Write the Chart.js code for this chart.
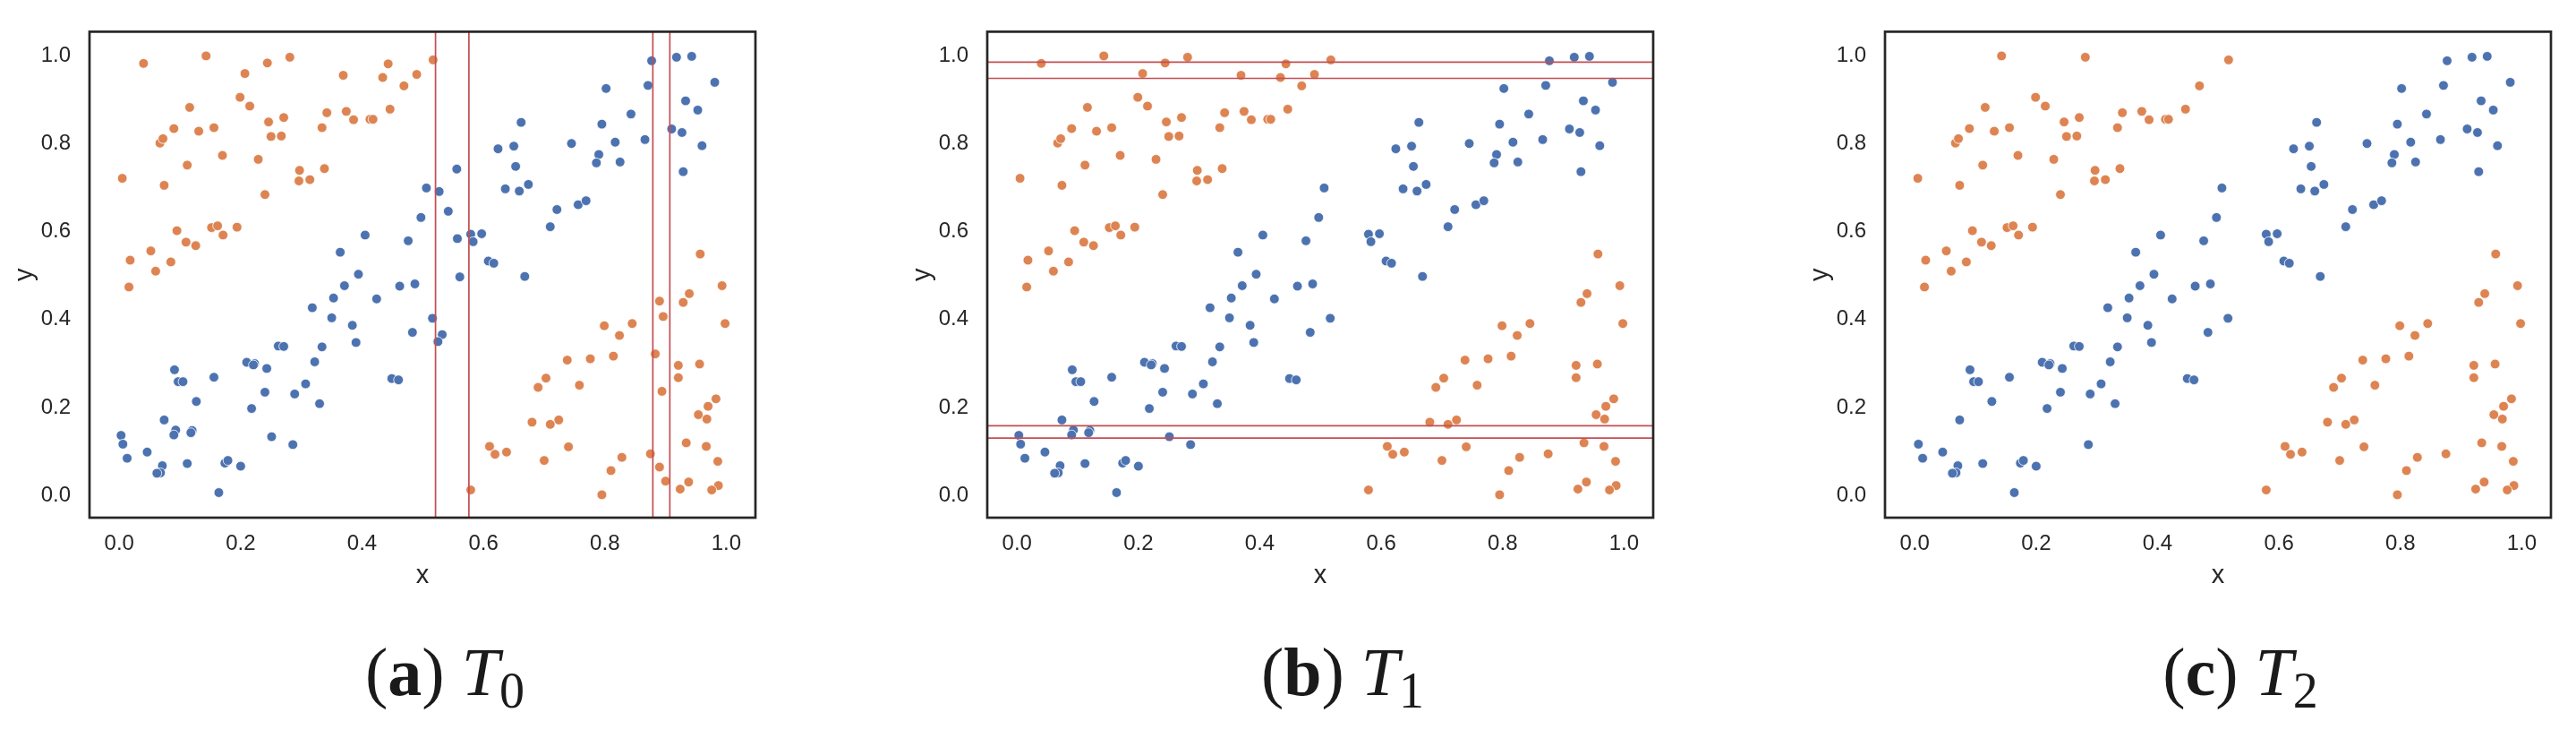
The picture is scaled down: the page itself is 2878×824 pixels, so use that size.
<!DOCTYPE html>
<html>
<head>
<meta charset="utf-8">
<script src="https://cdn.jsdelivr.net/npm/chart.js@4.4.0/dist/chart.umd.min.js"></script>
<style>
  body { margin: 0; background: #fff; width: 2878px; height: 824px; overflow: hidden; position: relative; }
  .panel { position: absolute; top: 0; width: 858px; height: 700px; }
  .cap { position: absolute; top: 712px; width: 400px; margin-left: -200px; text-align: center;
         font-family: "Liberation Serif", serif; font-size: 76px; line-height: 1; color: #1a1a1a; white-space: nowrap; }
  .cap b { font-weight: bold; }
  .cap i { font-style: italic; }
  .cap sub { font-size: 56px; vertical-align: -14px; font-style: normal; }
</style>
</head>
<body>
<div class="panel" style="left:0px"><canvas id="c0"></canvas></div>
<div class="panel" style="left:1003px"><canvas id="c1"></canvas></div>
<div class="panel" style="left:2006px"><canvas id="c2"></canvas></div>
<div class="cap" style="left:497px">(<b>a</b>) <i>T</i><sub>0</sub></div>
<div class="cap" style="left:1500px">(<b>b</b>) <i>T</i><sub>1</sub></div>
<div class="cap" style="left:2503px">(<b>c</b>) <i>T</i><sub>2</sub></div>

<script>
// class 0 (blue)
let blueX = [0.918, 0.943, 0.877, 0.871, 0.802, 0.981, 0.933, 0.953, 0.843, 0.795,
             0.662, 0.910, 0.927, 0.866, 0.817, 0.960, 0.745, 0.624, 0.650, 0.790,
             0.786, 0.825, 0.653, 0.556, 0.929, 0.506, 0.527, 0.636, 0.659, 0.674,
             0.756, 0.769, 0.721, 0.542, 0.497, 0.710, 0.405, 0.476, 0.557, 0.579,
             0.583, 0.597, 0.364, 0.608, 0.617, 0.561, 0.668, 0.394, 0.371, 0.462,
             0.487, 0.353, 0.424, 0.318, 0.350, 0.516, 0.384, 0.483, 0.532, 0.525,
             0.390, 0.262, 0.271, 0.334, 0.210, 0.223, 0.221, 0.322, 0.243, 0.091,
             0.097, 0.105, 0.156, 0.449, 0.460, 0.307, 0.240, 0.289, 0.127, 0.330,
             0.218, 0.074, 0.093, 0.090, 0.120, 0.118, 0.003, 0.006, 0.251, 0.286,
             0.013, 0.046, 0.071, 0.068, 0.062, 0.112, 0.174, 0.179, 0.200, 0.164];
let blueY = [0.996, 0.998, 0.988, 0.932, 0.925, 0.939, 0.897, 0.876, 0.867, 0.844,
             0.848, 0.833, 0.825, 0.809, 0.803, 0.795, 0.800, 0.788, 0.794, 0.775,
             0.756, 0.758, 0.748, 0.742, 0.736, 0.699, 0.691, 0.697, 0.692, 0.707,
             0.661, 0.670, 0.650, 0.646, 0.632, 0.611, 0.592, 0.579, 0.584, 0.594,
             0.577, 0.595, 0.553, 0.533, 0.528, 0.497, 0.498, 0.503, 0.477, 0.476,
             0.481, 0.449, 0.447, 0.427, 0.404, 0.403, 0.387, 0.371, 0.366, 0.350,
             0.348, 0.340, 0.339, 0.338, 0.303, 0.300, 0.297, 0.304, 0.289, 0.286,
             0.259, 0.259, 0.269, 0.266, 0.263, 0.254, 0.235, 0.231, 0.214, 0.209,
             0.198, 0.172, 0.149, 0.138, 0.148, 0.143, 0.137, 0.117, 0.134, 0.116,
             0.085, 0.099, 0.068, 0.052, 0.051, 0.073, 0.074, 0.080, 0.067, 0.007];

// class 1 (orange)
let orangeX = [0.040, 0.143, 0.281, 0.244, 0.207, 0.369, 0.443, 0.434, 0.469, 0.490,
               0.517, 0.199, 0.215, 0.116, 0.090, 0.131, 0.156, 0.246, 0.271, 0.250,
               0.267, 0.334, 0.342, 0.374, 0.386, 0.413, 0.418, 0.446, 0.067, 0.072,
               0.170, 0.112, 0.229, 0.297, 0.296, 0.314, 0.338, 0.240, 0.005, 0.074,
               0.095, 0.152, 0.162, 0.171, 0.194, 0.110, 0.126, 0.052, 0.018, 0.085,
               0.060, 0.016, 0.957, 0.993, 0.939, 0.929, 0.890, 0.896, 0.998, 0.845,
               0.799, 0.824, 0.814, 0.776, 0.738, 0.883, 0.921, 0.956, 0.921, 0.703,
               0.690, 0.758, 0.894, 0.983, 0.970, 0.954, 0.968, 0.680, 0.724, 0.710,
               0.934, 0.967, 0.610, 0.619, 0.638, 0.740, 0.700, 0.875, 0.828, 0.986,
               0.810, 0.890, 0.900, 0.938, 0.924, 0.987, 0.976, 0.795, 0.579];
let orangeY = [0.982, 0.999, 0.996, 0.983, 0.959, 0.955, 0.981, 0.950, 0.931, 0.957,
               0.990, 0.905, 0.885, 0.882, 0.834, 0.828, 0.836, 0.849, 0.859, 0.816,
               0.817, 0.836, 0.870, 0.873, 0.854, 0.855, 0.855, 0.878, 0.801, 0.811,
               0.773, 0.751, 0.764, 0.739, 0.715, 0.718, 0.743, 0.684, 0.721, 0.705,
               0.602, 0.609, 0.613, 0.592, 0.610, 0.576, 0.568, 0.556, 0.535, 0.531,
               0.510, 0.474, 0.549, 0.477, 0.459, 0.439, 0.442, 0.407, 0.391, 0.391,
               0.386, 0.364, 0.317, 0.311, 0.308, 0.322, 0.296, 0.299, 0.268, 0.267,
               0.246, 0.251, 0.237, 0.220, 0.203, 0.184, 0.174, 0.167, 0.172, 0.162,
               0.120, 0.112, 0.112, 0.094, 0.099, 0.111, 0.080, 0.095, 0.087, 0.078,
               0.057, 0.065, 0.033, 0.031, 0.015, 0.023, 0.013, 0.002, 0.013];

// split bands: T0 cuts on x, T1 cuts on y
let xCuts = [[0.521, 0.576], [0.879, 0.907]];
let yCuts = [[0.948, 0.985], [0.131, 0.159]];

let tickValues = [0.0, 0.2, 0.4, 0.6, 0.8, 1.0];
let tickLabels = ["0.0", "0.2", "0.4", "0.6", "0.8", "1.0"];

let blauColor = "#4c72b0";
let taronjaColor = "#dd8452";
let vermellColor = "#c44e52";
let textColor = "#262626";

function punts(xs, ys) {
    let llista = [];
    for (let i = 0; i < xs.length; i++) {
        llista.push({ x: xs[i], y: ys[i] });
    }
    return llista;
}

function fora(v, bands) {
    for (let i = 0; i < bands.length; i++) {
        if (v > bands[i][0] && v < bands[i][1]) {
            return false;
        }
    }
    return true;
}

let blauT0 = punts(blueX, blueY);
let taronjaT0 = punts(orangeX, orangeY);
let blauT1 = blauT0.filter(p => fora(p.x, xCuts));
let taronjaT1 = taronjaT0.filter(p => fora(p.x, xCuts));
let blauT2 = blauT1.filter(p => fora(p.y, yCuts));
let taronjaT2 = taronjaT1.filter(p => fora(p.y, yCuts));

// red split lines + black frame
const liniesPlugin = {
    id: "linies",
    afterDatasetsDraw(chart) {
        let opts = chart.options.plugins.linies;
        let ctx = chart.ctx;
        let area = chart.chartArea;
        let sx = chart.scales.x;
        let sy = chart.scales.y;
        ctx.save();
        ctx.strokeStyle = vermellColor;
        ctx.lineWidth = 1.7;
        (opts.vertical || []).forEach(v => {
            let px = sx.getPixelForValue(v);
            ctx.beginPath();
            ctx.moveTo(px, area.top);
            ctx.lineTo(px, area.bottom);
            ctx.stroke();
        });
        (opts.horizontal || []).forEach(v => {
            let py = sy.getPixelForValue(v);
            ctx.beginPath();
            ctx.moveTo(area.left, py);
            ctx.lineTo(area.right, py);
            ctx.stroke();
        });
        ctx.strokeStyle = textColor;
        ctx.lineWidth = 2.7;
        ctx.strokeRect(area.left, area.top, area.right - area.left, area.bottom - area.top);
        ctx.restore();
    }
};

function escala(min, max, titol, horitzontal) {
    return {
        type: "linear",
        min: min,
        max: max,
        grid: { display: false, drawTicks: false },
        border: { display: false },
        afterBuildTicks: s => { s.ticks = tickValues.map(v => ({ value: v })); },
        afterFit: s => {
            if (horitzontal) {
                s.height = 82.4;
            } else {
                s.width = 100;
            }
        },
        ticks: {
            padding: horitzontal ? 15 : 21,
            color: textColor,
            font: { family: "Liberation Sans", size: 24 },
            callback: (v, i) => tickLabels[i]
        },
        title: {
            display: true,
            text: titol,
            color: textColor,
            font: { family: "Liberation Sans", size: 29 },
            padding: horitzontal ? { top: 0, bottom: 0 } : { top: 10.6, bottom: 0 }
        }
    };
}

function mostrarGrafic(id, blau, taronja, vertical, horizontal) {
    let canvas = document.getElementById(id);
    return new Chart(canvas, {
        type: "scatter",
        data: {
            datasets: [{
                label: "0",
                data: blau,
                backgroundColor: blauColor,
                borderColor: "#ffffff",
                borderWidth: 0.8,
                pointRadius: 5.4
            }, {
                label: "1",
                data: taronja,
                backgroundColor: taronjaColor,
                borderColor: "#ffffff",
                borderWidth: 0.8,
                pointRadius: 5.4
            }]
        },
        options: {
            responsive: true,
            maintainAspectRatio: false,
            animation: false,
            events: [],
            layout: { padding: { left: 0, right: 14, top: 23.3, bottom: 39.6 } },
            scales: {
                x: escala(-0.049, 1.048, "x", true),
                y: escala(-0.050, 1.054, "y", false)
            },
            plugins: {
                legend: { display: false },
                tooltip: { enabled: false },
                linies: { vertical: vertical, horizontal: horizontal }
            }
        },
        plugins: [liniesPlugin]
    });
}

let vLinies = [xCuts[0][0], xCuts[0][1], xCuts[1][0], xCuts[1][1]];
let hLinies = [yCuts[0][0], yCuts[0][1], yCuts[1][0], yCuts[1][1]];

mostrarGrafic("c0", blauT0, taronjaT0, vLinies, []);
mostrarGrafic("c1", blauT1, taronjaT1, [], hLinies);
mostrarGrafic("c2", blauT2, taronjaT2, [], []);
</script>
</body>
</html>
